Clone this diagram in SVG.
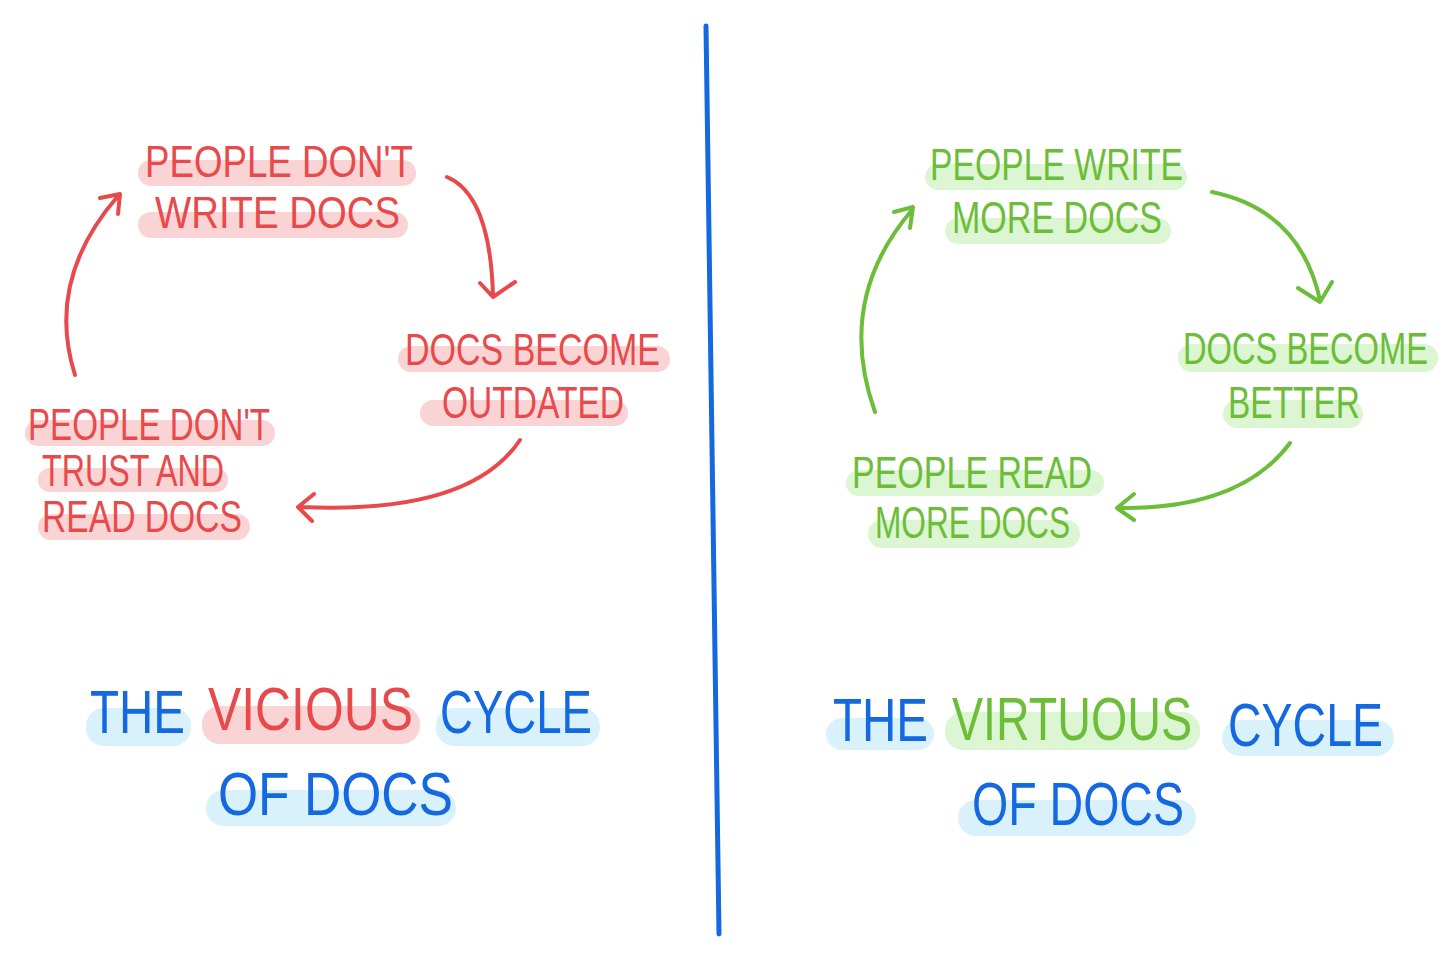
<svg xmlns="http://www.w3.org/2000/svg" width="1456" height="971" viewBox="0 0 1456 971">
<defs>
<style>
text{font-family:"Liberation Sans",Arial,sans-serif;font-weight:normal;}
.r{fill:#e84a4c;font-size:44px}
.g{fill:#6cbd38;font-size:44px}
.b{fill:#1468e0;font-size:62px}
.tr{fill:#e84a4c;font-size:62px}
.tg{fill:#6cbd38;font-size:62px}
.hr{fill:#fad4d4}
.hg{fill:#dcf5d2}
.hb{fill:#d8f1fb}
.ar{fill:none;stroke:#e84a4c;stroke-width:4;stroke-linecap:round;stroke-linejoin:round}
.ag{fill:none;stroke:#6cbd38;stroke-width:4;stroke-linecap:round;stroke-linejoin:round}
</style>
</defs>
<rect width="1456" height="971" fill="#fff"/>
<g id="divider"><path d="M706 26 Q714 480 719 934" fill="none" stroke="#1468e0" stroke-width="5" stroke-linecap="round"/></g>
<g id="connectors">
<path class="ar" d="M447 177 Q490 195 493 295 M480 283 L493 297 L515 282"/>
<path class="ar" d="M520 440 Q470 515 300 507 M314 494 L298 507 L312 521"/>
<path class="ar" d="M75 375 Q45 280 118 196 M100 198 L120 194 L118 214"/>
<path class="ag" d="M1212 192 Q1300 210 1320 300 M1298 288 L1320 302 L1332 282"/>
<path class="ag" d="M1290 443 Q1240 510 1118 508 M1134 494 L1117 508 L1134 520"/>
<path class="ag" d="M875 412 Q835 300 912 210 M894 212 L913 207 L910 228"/>
</g>
<g id="node-people-dont-write">
<rect class="hr" x="138" y="160" width="278" height="26" rx="13"/>
<rect class="hr" x="138" y="212" width="270" height="26" rx="13"/>
<text class="r" x="145" y="177" textLength="268" lengthAdjust="spacingAndGlyphs">PEOPLE DON'T</text>
<text class="r" x="155" y="228" textLength="245" lengthAdjust="spacingAndGlyphs">WRITE DOCS</text>
</g>
<g id="node-docs-outdated">
<rect class="hr" x="398" y="346" width="272" height="26" rx="13"/>
<rect class="hr" x="420" y="400" width="208" height="26" rx="13"/>
<text class="r" x="405" y="365" textLength="255" lengthAdjust="spacingAndGlyphs">DOCS BECOME</text>
<text class="r" x="442" y="418" textLength="182" lengthAdjust="spacingAndGlyphs">OUTDATED</text>
</g>
<g id="node-people-dont-trust">
<rect class="hr" x="25" y="420" width="250" height="26" rx="13"/>
<rect class="hr" x="38" y="468" width="190" height="24" rx="12"/>
<rect class="hr" x="38" y="514" width="212" height="26" rx="13"/>
<text class="r" x="28" y="440" textLength="242" lengthAdjust="spacingAndGlyphs">PEOPLE DON'T</text>
<text class="r" x="42" y="486" textLength="182" lengthAdjust="spacingAndGlyphs">TRUST AND</text>
<text class="r" x="42" y="532" textLength="200" lengthAdjust="spacingAndGlyphs">READ DOCS</text>
</g>
<g id="title-vicious">
<rect class="hb" x="86" y="708" width="105" height="38" rx="18"/>
<rect class="hr" x="202" y="706" width="218" height="38" rx="18"/>
<rect class="hb" x="436" y="708" width="164" height="38" rx="18"/>
<rect class="hb" x="206" y="790" width="250" height="36" rx="18"/>
<text class="b" x="90" y="733" textLength="95" lengthAdjust="spacingAndGlyphs">THE</text>
<text class="tr" x="208" y="730" textLength="205" lengthAdjust="spacingAndGlyphs">VICIOUS</text>
<text class="b" x="440" y="733" textLength="152" lengthAdjust="spacingAndGlyphs">CYCLE</text>
<text class="b" x="218" y="815" textLength="235" lengthAdjust="spacingAndGlyphs">OF DOCS</text>
</g>
<g id="node-people-write-more">
<rect class="hg" x="925" y="164" width="262" height="26" rx="13"/>
<rect class="hg" x="945" y="218" width="226" height="26" rx="13"/>
<text class="g" x="930" y="180" textLength="253" lengthAdjust="spacingAndGlyphs">PEOPLE WRITE</text>
<text class="g" x="952" y="233" textLength="210" lengthAdjust="spacingAndGlyphs">MORE DOCS</text>
</g>
<g id="node-docs-better">
<rect class="hg" x="1178" y="344" width="260" height="28" rx="14"/>
<rect class="hg" x="1223" y="400" width="140" height="28" rx="14"/>
<text class="g" x="1183" y="364" textLength="245" lengthAdjust="spacingAndGlyphs">DOCS BECOME</text>
<text class="g" x="1228" y="418" textLength="132" lengthAdjust="spacingAndGlyphs">BETTER</text>
</g>
<g id="node-people-read-more">
<rect class="hg" x="846" y="470" width="258" height="26" rx="13"/>
<rect class="hg" x="868" y="520" width="212" height="28" rx="14"/>
<text class="g" x="852" y="488" textLength="240" lengthAdjust="spacingAndGlyphs">PEOPLE READ</text>
<text class="g" x="875" y="538" textLength="195" lengthAdjust="spacingAndGlyphs">MORE DOCS</text>
</g>
<g id="title-virtuous">
<rect class="hb" x="826" y="718" width="108" height="32" rx="16"/>
<rect class="hg" x="945" y="712" width="255" height="38" rx="18"/>
<rect class="hb" x="1222" y="720" width="172" height="36" rx="18"/>
<rect class="hb" x="958" y="800" width="238" height="36" rx="18"/>
<text class="b" x="833" y="741" textLength="95" lengthAdjust="spacingAndGlyphs">THE</text>
<text class="tg" x="952" y="740" textLength="240" lengthAdjust="spacingAndGlyphs">VIRTUOUS</text>
<text class="b" x="1228" y="746" textLength="155" lengthAdjust="spacingAndGlyphs">CYCLE</text>
<text class="b" x="972" y="825" textLength="212" lengthAdjust="spacingAndGlyphs">OF DOCS</text>
</g>
</svg>
